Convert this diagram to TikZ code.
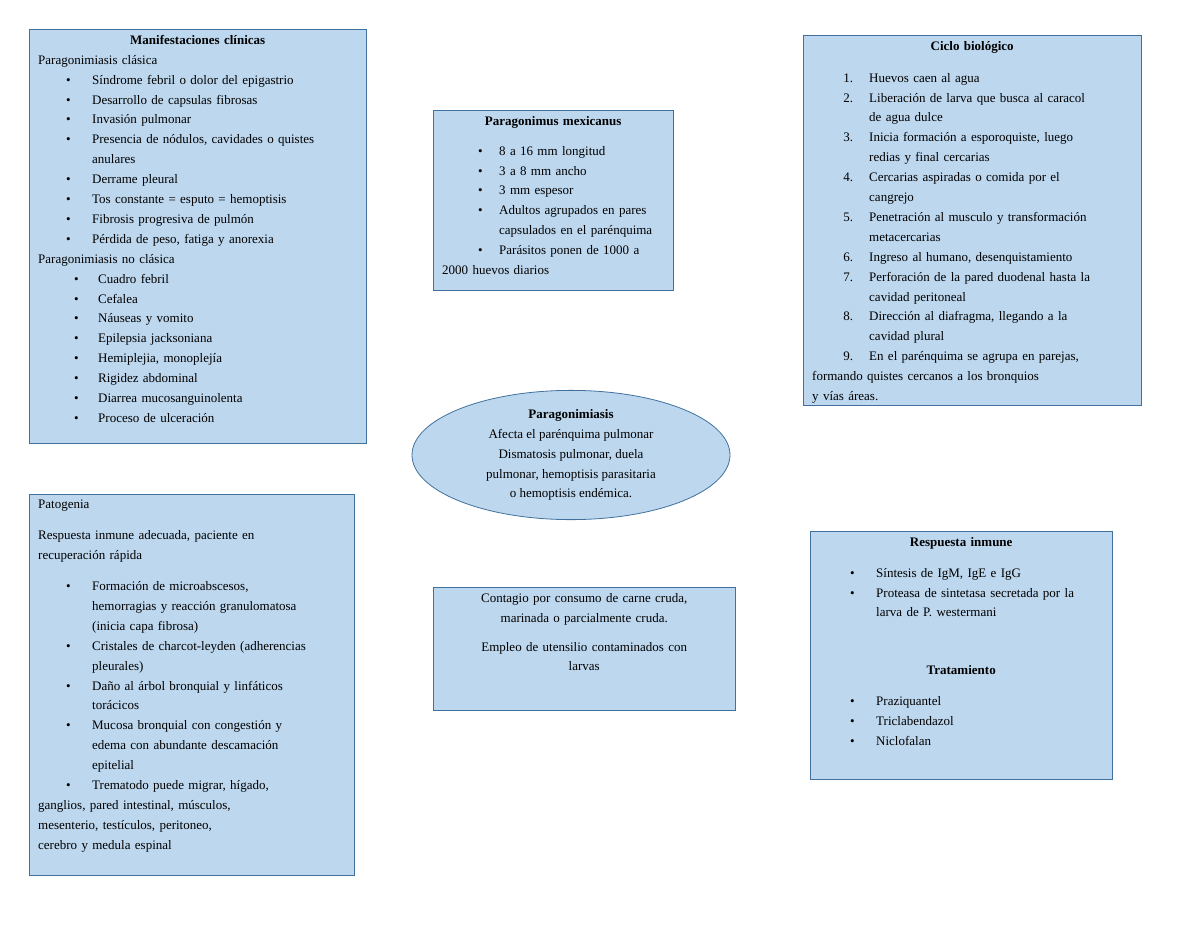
\documentclass[tikz,border=0pt]{standalone}
\usepackage{fontspec}
\setmainfont{Liberation Serif}
\usetikzlibrary{shapes.geometric}
\definecolor{fillb}{HTML}{BDD7EE}
\definecolor{lineb}{HTML}{41719C}
\newcommand\itm[3]{\par\hangindent=#2pt\hangafter=1\noindent\hbox to #2pt{\hskip #1pt\textbullet\hfil}#3}
\newcommand\num[2]{\par\hangindent=57pt\hangafter=1\noindent\hbox to 57pt{\hfil#1.\hskip 16pt}#2}
\tikzset{box/.style={draw=lineb,fill=fillb,line width=0.8pt,anchor=north west,inner sep=0pt},
 txt/.style={anchor=north west,inner sep=0pt,align=left,font=\fontsize{13}{19.9}\selectfont}}
\begin{document}
\begin{tikzpicture}[x=1pt,y=-1pt]
\useasboundingbox (0,0) rectangle (1200,927);
% Manifestaciones
\node[box,minimum width=337pt,minimum height=414pt] (b1) at (29,29) {};
\node[txt,text width=319pt] (t1) at (38,35) {%
\centerline{\bfseries Manifestaciones clínicas}\par\noindent Paragonimiasis clásica
\itm{28}{54}{Síndrome febril o dolor del epigastrio}
\itm{28}{54}{Desarrollo de capsulas fibrosas}
\itm{28}{54}{Invasión pulmonar}
\itm{28}{54}{Presencia de nódulos, cavidades o quistes\newline anulares}
\itm{28}{54}{Derrame pleural}
\itm{28}{54}{Tos constante = esputo = hemoptisis}
\itm{28}{54}{Fibrosis progresiva de pulmón}
\itm{28}{54}{Pérdida de peso, fatiga y anorexia}
\par\noindent Paragonimiasis no clásica
\itm{36}{60}{Cuadro febril}
\itm{36}{60}{Cefalea}
\itm{36}{60}{Náuseas y vomito}
\itm{36}{60}{Epilepsia jacksoniana}
\itm{36}{60}{Hemiplejia, monoplejía}
\itm{36}{60}{Rigidez abdominal}
\itm{36}{60}{Diarrea mucosanguinolenta}
\itm{36}{60}{Proceso de ulceración}};
% Paragonimus mexicanus
\node[box,minimum width=240pt,minimum height=180pt] (b2) at (433,110) {};
\node[txt,text width=222pt] (t2) at (442,116) {%
\centerline{\bfseries Paragonimus mexicanus}\par\vspace{10pt}
\itm{36}{57}{8 a 16 mm longitud}
\itm{36}{57}{3 a 8 mm ancho}
\itm{36}{57}{3 mm espesor}
\itm{36}{57}{Adultos agrupados en pares\newline capsulados en el parénquima}
\itm{36}{57}{Parásitos ponen de 1000 a\newline 2000 huevos diarios}};
% Ciclo
\node[box,minimum width=338pt,minimum height=370pt] (b3) at (803,35) {};
\node[txt,text width=320pt] (t3) at (812,41) {%
\centerline{\bfseries Ciclo biológico}\par\vspace{12pt}
\num{1}{Huevos caen al agua}
\num{2}{Liberación de larva que busca al caracol\newline de agua dulce}
\num{3}{Inicia formación a esporoquiste, luego\newline redias y final cercarias}
\num{4}{Cercarias aspiradas o comida por el\newline cangrejo}
\num{5}{Penetración al musculo y transformación\newline metacercarias}
\num{6}{Ingreso al humano, desenquistamiento}
\num{7}{Perforación de la pared duodenal hasta la\newline cavidad peritoneal}
\num{8}{Dirección al diafragma, llegando a la\newline cavidad plural}
\num{9}{En el parénquima se agrupa en parejas,\newline formando quistes cercanos a los bronquios\newline y vías áreas.}};
% Ellipse
\node[ellipse,draw=lineb,fill=fillb,line width=0.8pt,minimum width=318pt,minimum height=126pt,inner sep=0pt,align=center,font=\fontsize{13}{19.9}\selectfont] (e) at (571,455)
{\bfseries Paragonimiasis\\Afecta el parénquima pulmonar\\Dismatosis pulmonar, duela\\pulmonar, hemoptisis parasitaria\\o hemoptisis endémica.};
% Patogenia
\node[box,minimum width=325pt,minimum height=381pt] (b4) at (29,494) {};
\node[txt,text width=307pt] (t4) at (38,500) {%
\noindent Patogenia\par\vspace{11pt}\noindent Respuesta inmune adecuada, paciente en\newline recuperación rápida\par\vspace{11pt}
\itm{28}{54}{Formación de microabscesos,\newline hemorragias y reacción granulomatosa\newline (inicia capa fibrosa)}
\itm{28}{54}{Cristales de charcot-leyden (adherencias\newline pleurales)}
\itm{28}{54}{Daño al árbol bronquial y linfáticos\newline torácicos}
\itm{28}{54}{Mucosa bronquial con congestión y\newline edema con abundante descamación\newline epitelial}
\itm{28}{54}{Trematodo puede migrar, hígado,\newline ganglios, pared intestinal, músculos,\newline mesenterio, testículos, peritoneo,\newline cerebro y medula espinal}};
% Contagio
\node[box,minimum width=302pt,minimum height=123pt] (b5) at (433,587) {};
\node[txt,text width=284pt,align=center] (t5) at (442,593) {%
Contagio por consumo de carne cruda,\\marinada o parcialmente cruda.\\[9pt]Empleo de utensilio contaminados con\\larvas};
% Respuesta inmune
\node[box,minimum width=302pt,minimum height=248pt] (b6) at (810,531) {};
\node[txt,text width=284pt] (t6) at (819,537) {%
\centerline{\bfseries Respuesta inmune}\par\vspace{11pt}
\itm{31}{57}{Síntesis de IgM, IgE e IgG}
\itm{31}{57}{Proteasa de sintetasa secretada por la\newline larva de P. westermani}
\par\vspace{38pt}\centerline{\bfseries Tratamiento}\par\vspace{11pt}
\itm{31}{57}{Praziquantel}
\itm{31}{57}{Triclabendazol}
\itm{31}{57}{Niclofalan}};
\end{tikzpicture}
\end{document}
